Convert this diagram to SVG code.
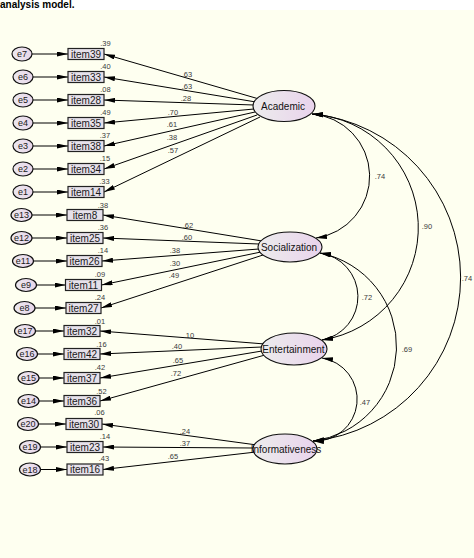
<svg xmlns="http://www.w3.org/2000/svg" width="474" height="558" viewBox="0 0 474 558">
<defs>
<style>
.f{font-family:"Liberation Sans",Arial,sans-serif}
.err ellipse{fill:url(#eg);stroke:#111;stroke-width:1.2}
.err text{font-size:9px;fill:#1a1a1a;text-anchor:middle}
.item rect{fill:#e6e1ea;stroke:#222;stroke-width:1.2}
.item text{font-size:10px;fill:#1a1a1a;text-anchor:middle}
.lat ellipse{fill:url(#lg);stroke:#111;stroke-width:1.1}
.lat text{font-size:10px;fill:#111;text-anchor:middle}
.conn line,.conn path{stroke:#000;stroke-width:1;fill:none}
.f text.lbl,.item text.lbl{font-size:7.5px;fill:#3a3a3a;text-anchor:middle}
</style>
<linearGradient id="lg" x1="0" x2="1" y1="0" y2="0"><stop offset="0" stop-color="#ececec"/><stop offset="1" stop-color="#e9d3ec"/></linearGradient>
<linearGradient id="eg" x1="0" x2="1" y1="0" y2="0"><stop offset="0" stop-color="#ece8ee"/><stop offset="1" stop-color="#e8d6ea"/></linearGradient>
<marker id="ah" viewBox="0 0 11 5" refX="11" refY="2.5" markerWidth="11" markerHeight="5" markerUnits="userSpaceOnUse" orient="auto-start-reverse"><path d="M0,0 L11,2.5 L0,5 z" fill="#000"/></marker>
</defs>
<rect x="0" y="0" width="474" height="558" fill="#fefff0"/>
<rect x="0" y="0" width="474" height="10" fill="#ffffff"/>
<text class="f" x="0" y="8" font-size="10" font-weight="bold" fill="#000">analysis model.</text>

<g id="connectors" class="conn f">
<line x1="32" y1="54" x2="68" y2="54" marker-end="url(#ah)"/>
<line x1="33" y1="77" x2="68" y2="77" marker-end="url(#ah)"/>
<line x1="33" y1="100" x2="68" y2="100" marker-end="url(#ah)"/>
<line x1="33" y1="123" x2="68" y2="123" marker-end="url(#ah)"/>
<line x1="33" y1="146" x2="68" y2="146" marker-end="url(#ah)"/>
<line x1="33" y1="169" x2="68" y2="169" marker-end="url(#ah)"/>
<line x1="33" y1="192" x2="68" y2="192" marker-end="url(#ah)"/>
<line x1="32" y1="215" x2="67" y2="215" marker-end="url(#ah)"/>
<line x1="32" y1="238" x2="67" y2="238" marker-end="url(#ah)"/>
<line x1="33.5" y1="261" x2="67" y2="261" marker-end="url(#ah)"/>
<line x1="36.5" y1="285" x2="65.5" y2="285" marker-end="url(#ah)"/>
<line x1="35" y1="308" x2="66" y2="308" marker-end="url(#ah)"/>
<line x1="35.5" y1="331" x2="64" y2="331" marker-end="url(#ah)"/>
<line x1="37.5" y1="354" x2="64" y2="354" marker-end="url(#ah)"/>
<line x1="39" y1="378" x2="64" y2="378" marker-end="url(#ah)"/>
<line x1="39" y1="401" x2="64" y2="401" marker-end="url(#ah)"/>
<line x1="38.5" y1="424" x2="66" y2="424" marker-end="url(#ah)"/>
<line x1="40.5" y1="447" x2="67" y2="447" marker-end="url(#ah)"/>
<line x1="40.5" y1="469.5" x2="67" y2="469.5" marker-end="url(#ah)"/>
<line x1="259" y1="99" x2="104" y2="54" marker-end="url(#ah)"/>
<line x1="256" y1="102" x2="104" y2="77" marker-end="url(#ah)"/>
<line x1="254" y1="105" x2="104" y2="100" marker-end="url(#ah)"/>
<line x1="254" y1="109" x2="104" y2="123" marker-end="url(#ah)"/>
<line x1="255" y1="112" x2="104" y2="146" marker-end="url(#ah)"/>
<line x1="257" y1="115" x2="104" y2="169" marker-end="url(#ah)"/>
<line x1="260" y1="117" x2="104" y2="192" marker-end="url(#ah)"/>
<line x1="262" y1="241" x2="103" y2="215" marker-end="url(#ah)"/>
<line x1="259" y1="244" x2="103" y2="238" marker-end="url(#ah)"/>
<line x1="259" y1="249" x2="102" y2="261" marker-end="url(#ah)"/>
<line x1="261" y1="252" x2="101.5" y2="285" marker-end="url(#ah)"/>
<line x1="263" y1="255" x2="101" y2="308" marker-end="url(#ah)"/>
<line x1="265" y1="344" x2="100" y2="331" marker-end="url(#ah)"/>
<line x1="262" y1="347" x2="100" y2="354" marker-end="url(#ah)"/>
<line x1="262" y1="351" x2="100" y2="378" marker-end="url(#ah)"/>
<line x1="265" y1="355" x2="100" y2="401" marker-end="url(#ah)"/>
<line x1="257" y1="445" x2="102" y2="424" marker-end="url(#ah)"/>
<line x1="254" y1="448" x2="103" y2="447" marker-end="url(#ah)"/>
<line x1="256" y1="452" x2="103" y2="469.5" marker-end="url(#ah)"/>
<path d="M312,114 A62.4,62.4 0 0 1 316,238" marker-start="url(#ah)" marker-end="url(#ah)"/>
<path d="M312,114 A113.8,113.8 0 0 1 322,340" marker-start="url(#ah)" marker-end="url(#ah)"/>
<path d="M312,114 A164.3,164.3 0 0 1 313,441" marker-start="url(#ah)" marker-end="url(#ah)"/>
<path d="M320,253 A44.1,44.1 0 0 1 322,340" marker-start="url(#ah)" marker-end="url(#ah)"/>
<path d="M320,253 A95.3,95.3 0 0 1 313,441" marker-start="url(#ah)" marker-end="url(#ah)"/>
<path d="M322,358 A41.8,41.8 0 0 1 313,441" marker-start="url(#ah)" marker-end="url(#ah)"/>
<text class="lbl" x="187" y="76.5">.63</text>
<text class="lbl" x="187" y="88.5">.63</text>
<text class="lbl" x="186" y="100.5">.28</text>
<text class="lbl" x="173" y="115">.70</text>
<text class="lbl" x="172" y="126.5">.61</text>
<text class="lbl" x="172" y="140">.38</text>
<text class="lbl" x="173" y="152.5">.57</text>
<text class="lbl" x="188" y="227.5">.62</text>
<text class="lbl" x="187" y="239.5">.60</text>
<text class="lbl" x="175" y="252.5">.38</text>
<text class="lbl" x="175" y="265.5">.30</text>
<text class="lbl" x="174" y="277.5">.49</text>
<text class="lbl" x="189" y="337.5">.10</text>
<text class="lbl" x="177" y="349">.40</text>
<text class="lbl" x="178" y="362.5">.65</text>
<text class="lbl" x="176" y="375.5">.72</text>
<text class="lbl" x="185" y="434">.24</text>
<text class="lbl" x="185" y="445.5">.37</text>
<text class="lbl" x="173" y="458.5">.65</text>
<text class="lbl" x="380" y="178.5">.74</text>
<text class="lbl" x="427" y="228.5">.90</text>
<text class="lbl" x="467" y="280.5">.74</text>
<text class="lbl" x="367" y="300">.72</text>
<text class="lbl" x="407" y="351.5">.69</text>
<text class="lbl" x="365" y="404.5">.47</text>
</g>

<g id="Academic" class="lat f"><ellipse cx="284" cy="106" rx="31" ry="15.5"/><text x="283" y="109.5">Academic</text></g>
<g id="Socialization" class="lat f"><ellipse cx="290" cy="247" rx="32" ry="15"/><text x="289" y="250.5">Socialization</text></g>
<g id="Entertainment" class="lat f"><ellipse cx="294" cy="349" rx="33" ry="16"/><text x="293.5" y="352.5">Entertainment</text></g>
<g id="Informativeness" class="lat f"><ellipse cx="285" cy="449" rx="32" ry="15"/><text x="286" y="452.5">Informativeness</text></g>

<g id="e7" class="err f"><ellipse cx="22" cy="54" rx="10" ry="7"/><text x="22" y="57.2">e7</text></g>
<g id="e6" class="err f"><ellipse cx="23" cy="77" rx="10" ry="7"/><text x="23" y="80.2">e6</text></g>
<g id="e5" class="err f"><ellipse cx="23" cy="100" rx="10" ry="7"/><text x="23" y="103.2">e5</text></g>
<g id="e4" class="err f"><ellipse cx="23" cy="123" rx="10" ry="7"/><text x="23" y="126.2">e4</text></g>
<g id="e3" class="err f"><ellipse cx="23" cy="146" rx="10" ry="7"/><text x="23" y="149.2">e3</text></g>
<g id="e2" class="err f"><ellipse cx="23" cy="169" rx="10" ry="7"/><text x="23" y="172.2">e2</text></g>
<g id="e1" class="err f"><ellipse cx="23" cy="192" rx="10" ry="7"/><text x="23" y="195.2">e1</text></g>
<g id="e13" class="err f"><ellipse cx="21.5" cy="215" rx="10.5" ry="6.5"/><text x="21.5" y="218.2">e13</text></g>
<g id="e12" class="err f"><ellipse cx="21.5" cy="238" rx="10.5" ry="6.5"/><text x="21.5" y="241.2">e12</text></g>
<g id="e11" class="err f"><ellipse cx="23" cy="261" rx="10.5" ry="6.5"/><text x="23" y="264.2">e11</text></g>
<g id="e9" class="err f"><ellipse cx="26" cy="285" rx="10.5" ry="6.5"/><text x="26" y="288.2">e9</text></g>
<g id="e8" class="err f"><ellipse cx="24.5" cy="308" rx="10.5" ry="6.5"/><text x="24.5" y="311.2">e8</text></g>
<g id="e17" class="err f"><ellipse cx="25" cy="331" rx="10.5" ry="6.5"/><text x="25" y="334.2">e17</text></g>
<g id="e16" class="err f"><ellipse cx="27" cy="354" rx="10.5" ry="6.5"/><text x="27" y="357.2">e16</text></g>
<g id="e15" class="err f"><ellipse cx="28.5" cy="378" rx="10.5" ry="6.5"/><text x="28.5" y="381.2">e15</text></g>
<g id="e14" class="err f"><ellipse cx="28.5" cy="401" rx="10.5" ry="6.5"/><text x="28.5" y="404.2">e14</text></g>
<g id="e20" class="err f"><ellipse cx="28" cy="424" rx="10.5" ry="6.5"/><text x="28" y="427.2">e20</text></g>
<g id="e19" class="err f"><ellipse cx="30" cy="447" rx="10.5" ry="6.5"/><text x="30" y="450.2">e19</text></g>
<g id="e18" class="err f"><ellipse cx="30" cy="469.5" rx="10.5" ry="6.5"/><text x="30" y="472.7">e18</text></g>

<g id="item39" class="item f"><rect x="68" y="48.5" width="36" height="11"/><text x="86" y="57.5">item39</text><text class="lbl" x="105.5" y="45.5">.39</text></g>
<g id="item33" class="item f"><rect x="68" y="71.5" width="36" height="11"/><text x="86" y="80.5">item33</text><text class="lbl" x="105.5" y="68.5">.40</text></g>
<g id="item28" class="item f"><rect x="68" y="94.5" width="36" height="11"/><text x="86" y="103.5">item28</text><text class="lbl" x="105.5" y="91.5">.08</text></g>
<g id="item35" class="item f"><rect x="68" y="117.5" width="36" height="11"/><text x="86" y="126.5">item35</text><text class="lbl" x="105.5" y="114.5">.49</text></g>
<g id="item38" class="item f"><rect x="68" y="140.5" width="36" height="11"/><text x="86" y="149.5">item38</text><text class="lbl" x="105" y="137.5">.37</text></g>
<g id="item34" class="item f"><rect x="68" y="163.5" width="36" height="11"/><text x="86" y="172.5">item34</text><text class="lbl" x="105" y="160.5">.15</text></g>
<g id="item14" class="item f"><rect x="68" y="186.5" width="36" height="11"/><text x="86" y="195.5">item14</text><text class="lbl" x="104.5" y="183.5">.33</text></g>
<g id="item8" class="item f"><rect x="67" y="209.5" width="36" height="11"/><text x="85" y="218.5">item8</text><text class="lbl" x="103" y="207.5">.38</text></g>
<g id="item25" class="item f"><rect x="67" y="232.5" width="36" height="11"/><text x="85" y="241.5">item25</text><text class="lbl" x="103" y="229.5">.36</text></g>
<g id="item26" class="item f"><rect x="67" y="255.5" width="35" height="11"/><text x="84.5" y="264.5">item26</text><text class="lbl" x="103" y="252.5">.14</text></g>
<g id="item11" class="item f"><rect x="65.5" y="279.5" width="36" height="11"/><text x="83.5" y="288.5">item11</text><text class="lbl" x="100" y="276.5">.09</text></g>
<g id="item27" class="item f"><rect x="66" y="302.5" width="35" height="11"/><text x="83.5" y="311.5">item27</text><text class="lbl" x="100" y="300">.24</text></g>
<g id="item32" class="item f"><rect x="64" y="325.5" width="36" height="11"/><text x="82" y="334.5">item32</text><text class="lbl" x="100" y="323.5">.01</text></g>
<g id="item42" class="item f"><rect x="64" y="348.5" width="36" height="11"/><text x="82" y="357.5">item42</text><text class="lbl" x="101.5" y="346.5">.16</text></g>
<g id="item37" class="item f"><rect x="64" y="372.5" width="36" height="11"/><text x="82" y="381.5">item37</text><text class="lbl" x="100" y="370">.42</text></g>
<g id="item36" class="item f"><rect x="64" y="395.5" width="36" height="11"/><text x="82" y="404.5">item36</text><text class="lbl" x="101.5" y="393.5">.52</text></g>
<g id="item30" class="item f"><rect x="66" y="418.5" width="36" height="11"/><text x="84" y="427.5">item30</text><text class="lbl" x="99.5" y="415">.06</text></g>
<g id="item23" class="item f"><rect x="67" y="441.5" width="36" height="11"/><text x="85" y="450.5">item23</text><text class="lbl" x="105" y="438.5">.14</text></g>
<g id="item16" class="item f"><rect x="67" y="464" width="36" height="11"/><text x="85" y="473">item16</text><text class="lbl" x="104" y="461">.43</text></g>
</svg>
